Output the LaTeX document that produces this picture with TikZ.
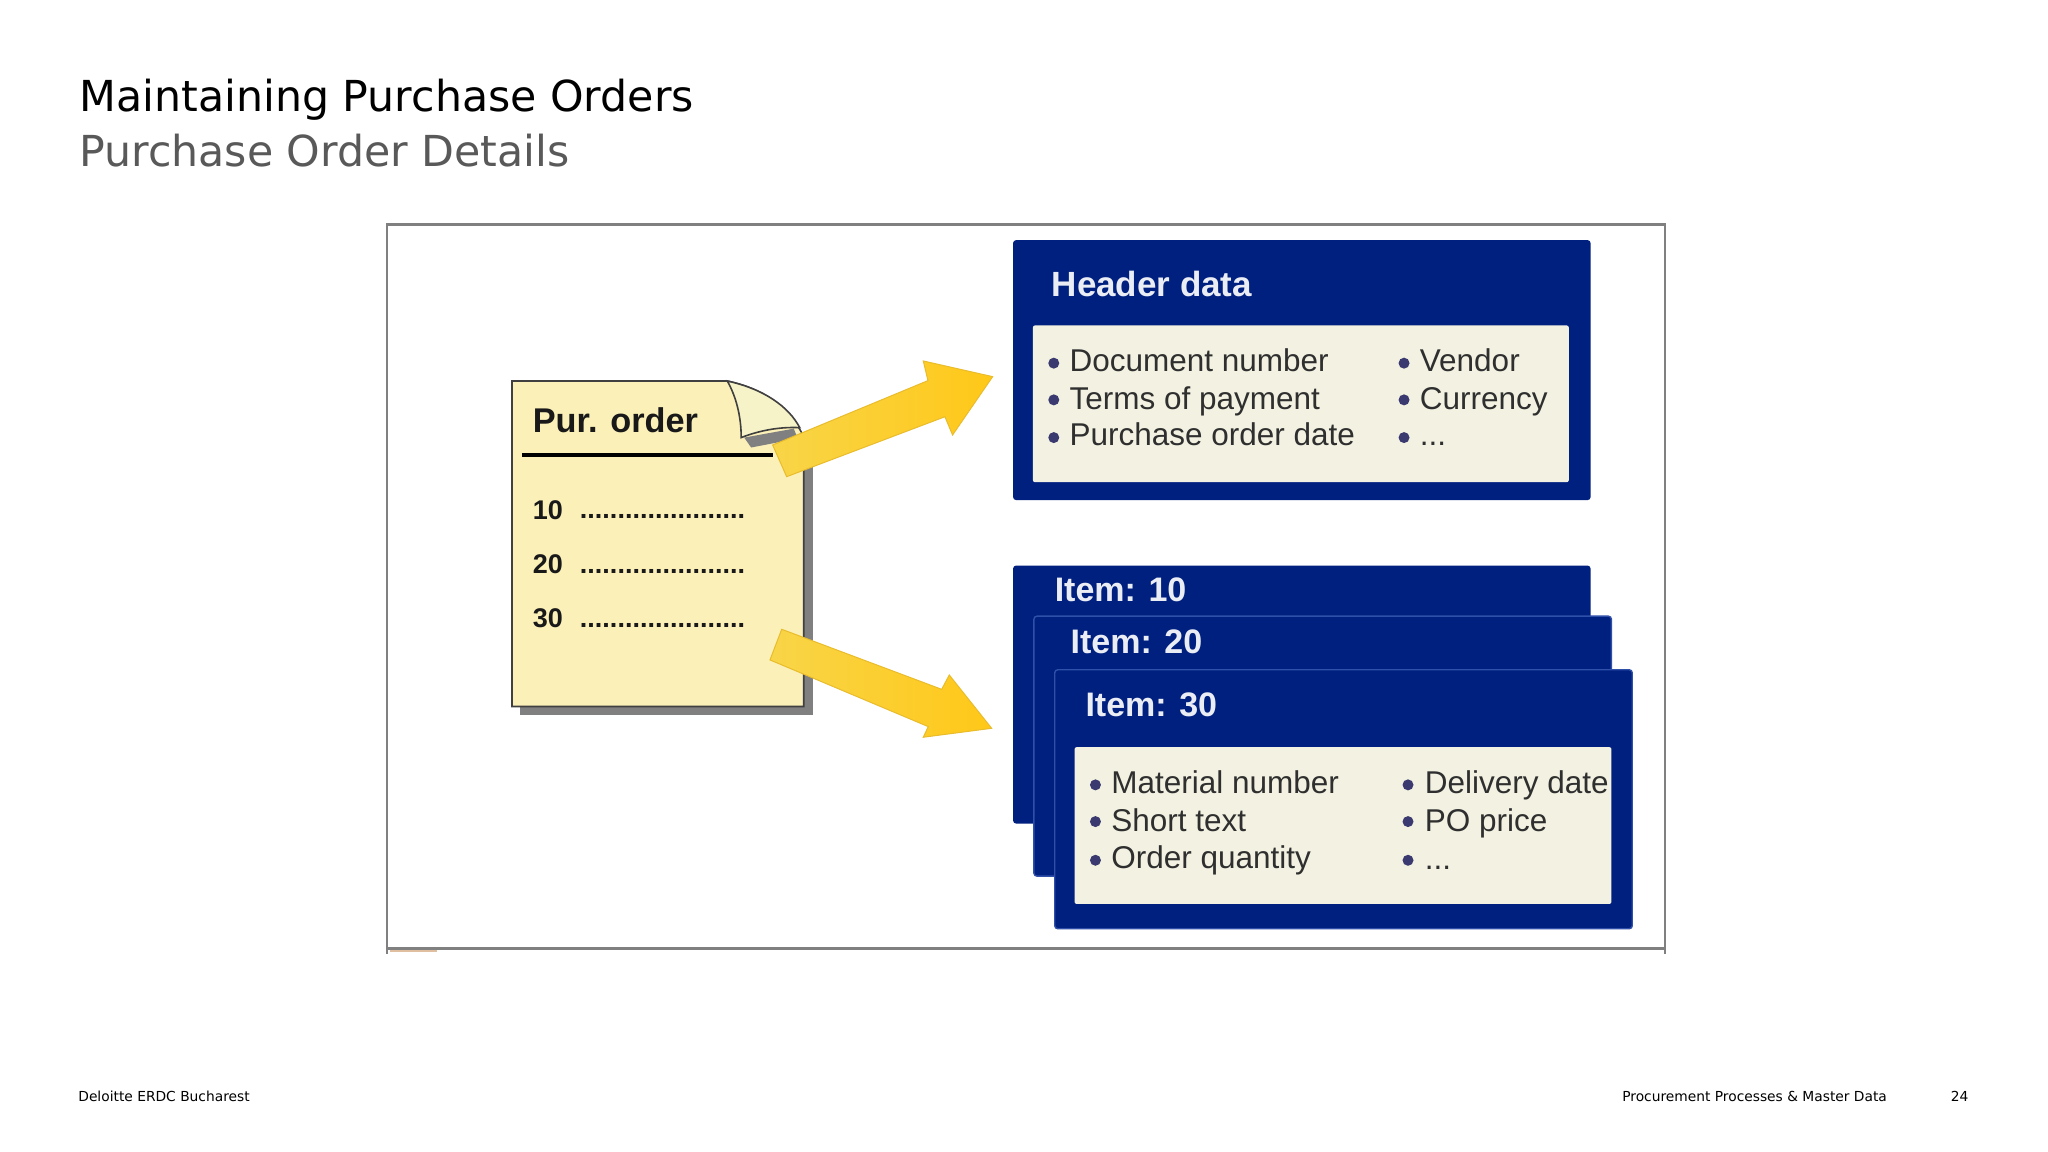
\documentclass[tikz,border=0pt]{standalone}
\usepackage{fontspec}
\setmainfont{Liberation Sans}
\newfontfamily\titlefont{DejaVu Sans}
\usetikzlibrary{calc}
\definecolor{navy}{HTML}{00207F}
\definecolor{navyline}{HTML}{2F4FA8}
\definecolor{panel}{HTML}{F3F2E2}
\definecolor{paper}{HTML}{FBF0B8}
\definecolor{flap}{HTML}{F6F3C8}
\definecolor{greyc}{HTML}{808080}
\definecolor{arrowa}{HTML}{F8D548}
\definecolor{arrowb}{HTML}{FFC818}
\definecolor{arrowe}{HTML}{E9BC2C}
\definecolor{ink}{HTML}{2F2F2F}
\definecolor{dotc}{HTML}{3A3A70}
\newcommand{\fs}[1]{\fontsize{#1}{#1}\selectfont}
\tikzset{
  x=0.49615pt,y=-0.49615pt,
  txt/.style={anchor=base west,inner sep=0pt,outer sep=0pt},
  ttl/.style={txt,font=\titlefont\fs{21.35}},
  foot/.style={txt,font=\titlefont\fs{6.9}},
  hd/.style={txt,text=white!92!navy,font=\bfseries\fs{17.5}},
  itm/.style={txt,text=white!92!navy,font=\bfseries\fs{17}},
  li/.style={txt,text=ink,font=\fs{15.75}},
  doc/.style={txt,text=black!90,font=\bfseries\fs{13.5}},
  bul/.style={circle,fill=dotc,minimum size=5.5pt,inner sep=0pt},
  card/.style={fill=navy,rounded corners=1.5pt},
  cardl/.style={draw=navyline,line width=0.7pt,fill=navy,rounded corners=1.5pt},
  pane/.style={fill=panel,rounded corners=1pt},
  yarrow/.style={left color=arrowa,right color=arrowb,draw=arrowe,line width=0.5pt,line join=miter}
}
\begin{document}
\begin{tikzpicture}
\useasboundingbox (0,0) rectangle (2064,1161);
\fill[white] (0,0) rectangle (2064,1161);
% titles
\node[ttl,text=black] (t1) at (80,112) {Maintaining Purchase Orders};
\node[ttl,text=black!65] (t2) at (80,168) {Purchase Order Details};
% frame
\fill[fill=white] (390,226) rectangle (1678,956);
\fill[fill=brown!50!white] (393,956) rectangle (440,959);
\draw[greyc,line width=1.3pt] (390,961) -- (390,226) -- (1678,226) -- (1678,961);
\draw[greyc,line width=1.3pt] (390,956) -- (1678,956);
% paper
\fill[greyc] (524,470) rectangle (819.5,720.5);
\path[fill=paper,draw=black!75,line width=0.8pt] (516,384) -- (733,384) .. controls (770,392) and (795,410) .. (810,440) -- (810,712) -- (516,712) -- cycle;
\fill[greyc] (750,441) -- (800,432) -- (804,442) -- (757,451) -- cycle;
\path[fill=flap,draw=black!75,line width=0.8pt] (733,384) .. controls (770,392) and (795,410) .. (806,431) .. controls (785,430) and (765,434) .. (747,441) .. controls (747,420) and (742,400) .. (733,384) -- cycle;
\coordinate (ra) at (526,459); \coordinate (rb) at (779,459);
\draw[black,line width=2pt] (ra) -- (rb);
\node[doc,font=\bfseries\fs{17.15}] (po) at (537,436) {Pur. order};
\node[doc] (n10) at (537,523.5) {10};
\node[doc] (n20) at (537,578) {20};
\node[doc] (n30) at (537,632.5) {30};
\node[doc] (d10) at (584.5,523) {......................};
\node[doc] (d20) at (584.5,577.5) {......................};
\node[doc] (d30) at (584.5,632) {......................};
% arrows
\path[yarrow] (778.7,448.5) -- (935.2,383.6) -- (930.5,363.8) -- (1000.4,379.6) -- (960,438.4) -- (952.3,420) -- (792.8,480.4) -- cycle;
\path[yarrow] (787.8,634.2) -- (949,694.7) -- (956.7,680.3) -- (999.4,734) -- (930.5,743) -- (935.5,732.3) -- (776,665.1) -- cycle;
% header card
\path[card] (1021,242) rectangle (1603,504);
\path[pane] (1041,328) rectangle (1581,486);
\node[hd] (hdr) at (1060,299) {Header data};
\foreach \nm/\lab/\yt/\yb in {da/Document number/374/366,db/Terms of payment/412.5/403,dc/Purchase order date/449/441}{
  \node[bul] (b\nm) at (1062,\yb) {};
  \node[li] (\nm) at (1078,\yt) {\lab};
}
\foreach \nm/\lab/\yt/\yb in {ea/Vendor/374/366,eb/Currency/412.5/403}{
  \node[bul] (b\nm) at (1415,\yb) {};
  \node[li] (\nm) at (1431,\yt) {\lab};
}
\node[bul] (bec) at (1415,441) {};
\node[li] (ec) at (1431,449) {...};
% item cards
\path[card] (1021,570) rectangle (1603,830);
\node[itm] (i10) at (1063,606) {Item: 10};
\path[cardl] (1042,621) rectangle (1624,883);
\node[itm] (i20) at (1079,659) {Item: 20};
\path[cardl] (1063,675) rectangle (1645,936);
\node[itm] (i30) at (1094,722) {Item: 30};
\path[pane] (1083,753) rectangle (1624,911);
\foreach \nm/\lab/\yt/\yb in {fa/Material number/800/791,fb/Short text/838/828,fc/Order quantity/875.5/867}{
  \node[bul] (b\nm) at (1104,\yb) {};
  \node[li] (\nm) at (1120,\yt) {\lab};
}
\foreach \nm/\lab/\yt/\yb in {ga/Delivery date/800/791,gb/PO price/838/828}{
  \node[bul] (b\nm) at (1419,\yb) {};
  \node[li] (\nm) at (1436,\yt) {\lab};
}
\node[bul] (bgc) at (1419,867) {};
\node[li] (gc) at (1436,876) {...};
% footer
\node[foot] (f1) at (79,1110.5) {Deloitte ERDC Bucharest};
\node[foot] (f2) at (1635,1110.5) {Procurement Processes \& Master Data};
\node[foot] (f3) at (1966,1110.5) {24};
\end{tikzpicture}
\end{document}
